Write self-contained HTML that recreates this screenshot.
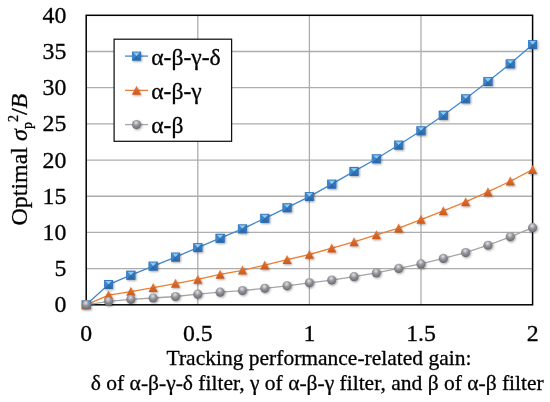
<!DOCTYPE html><html><head><meta charset="utf-8"><style>
html,body{margin:0;padding:0;background:#fff;}
body{width:550px;height:402px;overflow:hidden;}
svg{display:block;}
text{font-family:"Liberation Serif", "DejaVu Serif", serif;fill:#000;stroke:#000;stroke-width:0.3px;}
</style></head><body>
<svg width="550" height="402" viewBox="0 0 550 402">
<defs>
<linearGradient id="gbt" x1="0" y1="0" x2="0" y2="1"><stop offset="0" stop-color="#7cc3ec"/><stop offset="1" stop-color="#9fdcf6"/></linearGradient>
<linearGradient id="gb" x1="0" y1="0" x2="0" y2="1"><stop offset="0" stop-color="#5aa3e0"/><stop offset="1" stop-color="#2a6cb0"/></linearGradient>
<linearGradient id="go" x1="0" y1="0" x2="0" y2="1"><stop offset="0" stop-color="#ec7a36"/><stop offset="1" stop-color="#c9581c"/></linearGradient>
<radialGradient id="gg" cx="0.45" cy="0.3" r="0.7"><stop offset="0" stop-color="#e2e3e6"/><stop offset="0.45" stop-color="#94969b"/><stop offset="1" stop-color="#66686d"/></radialGradient>
<filter id="sh" x="-50%" y="-50%" width="200%" height="200%"><feGaussianBlur in="SourceAlpha" stdDeviation="0.9"/><feOffset dx="0.8" dy="1.2" result="b"/><feComponentTransfer><feFuncA type="linear" slope="0.35"/></feComponentTransfer><feMerge><feMergeNode/><feMergeNode in="SourceGraphic"/></feMerge></filter>
</defs>
<line x1="86.2" y1="268.61" x2="532.6" y2="268.61" stroke="#adadad" stroke-width="1.3"/>
<line x1="86.2" y1="232.43" x2="532.6" y2="232.43" stroke="#adadad" stroke-width="1.3"/>
<line x1="86.2" y1="196.24" x2="532.6" y2="196.24" stroke="#adadad" stroke-width="1.3"/>
<line x1="86.2" y1="160.05" x2="532.6" y2="160.05" stroke="#adadad" stroke-width="1.3"/>
<line x1="86.2" y1="123.86" x2="532.6" y2="123.86" stroke="#adadad" stroke-width="1.3"/>
<line x1="86.2" y1="87.68" x2="532.6" y2="87.68" stroke="#adadad" stroke-width="1.3"/>
<line x1="86.2" y1="51.49" x2="532.6" y2="51.49" stroke="#adadad" stroke-width="1.3"/>
<line x1="197.80" y1="15.3" x2="197.80" y2="304.8" stroke="#adadad" stroke-width="1.3"/>
<line x1="309.40" y1="15.3" x2="309.40" y2="304.8" stroke="#adadad" stroke-width="1.3"/>
<line x1="421.00" y1="15.3" x2="421.00" y2="304.8" stroke="#adadad" stroke-width="1.3"/>
<rect x="86.2" y="15.3" width="446.40" height="289.50" fill="none" stroke="#000" stroke-width="1.5"/>
<polyline points="86.20,304.80 108.52,301.33 130.84,299.37 153.16,298.00 175.48,296.48 197.80,294.16 220.12,292.21 242.44,290.61 264.76,288.37 287.08,285.84 309.40,282.87 331.72,280.12 354.04,276.65 376.36,272.95 398.68,268.47 421.00,263.91 443.32,258.41 465.64,252.62 487.96,245.24 510.28,236.84 532.60,227.72" fill="none" stroke="#a5a5a5" stroke-width="1.3"/>
<polyline points="86.20,304.80 108.52,295.03 130.84,291.56 153.16,287.65 175.48,283.52 197.80,279.47 220.12,274.47 242.44,270.28 264.76,265.14 287.08,259.71 309.40,254.50 331.72,248.13 354.04,241.91 376.36,234.89 398.68,228.08 421.00,219.54 443.32,210.93 465.64,201.88 487.96,191.90 510.28,181.26 532.60,169.60" fill="none" stroke="#ed7d31" stroke-width="1.3"/>
<polyline points="86.20,304.80 108.52,284.54 130.84,275.13 153.16,266.08 175.48,257.03 197.80,247.62 220.12,238.22 242.44,228.81 264.76,218.31 287.08,207.67 309.40,196.60 331.72,184.08 354.04,171.41 376.36,158.75 398.68,145.07 421.00,130.74 443.32,115.18 465.64,98.75 487.96,81.60 510.28,63.79 532.60,44.61" fill="none" stroke="#3f88d0" stroke-width="1.3"/>
<g filter="url(#sh)">
<g transform="translate(86.20,304.80)"><g><rect x="-4.5" y="-4.5" width="9" height="9" fill="#3577bd"/><path d="M-4.5,-4.5 L-4.5,4.5 L0,0 Z" fill="#3d84cb"/><path d="M4.5,-4.5 L4.5,4.5 L0,0 Z" fill="#3274b9"/><path d="M-4.5,4.5 L4.5,4.5 L0,0 Z" fill="#2d69aa"/><path d="M-3.4,-3.5 L3.4,-3.5 L0,-0.2 Z" fill="url(#gbt)"/></g></g>
<g transform="translate(108.52,284.54)"><g><rect x="-4.5" y="-4.5" width="9" height="9" fill="#3577bd"/><path d="M-4.5,-4.5 L-4.5,4.5 L0,0 Z" fill="#3d84cb"/><path d="M4.5,-4.5 L4.5,4.5 L0,0 Z" fill="#3274b9"/><path d="M-4.5,4.5 L4.5,4.5 L0,0 Z" fill="#2d69aa"/><path d="M-3.4,-3.5 L3.4,-3.5 L0,-0.2 Z" fill="url(#gbt)"/></g></g>
<g transform="translate(130.84,275.13)"><g><rect x="-4.5" y="-4.5" width="9" height="9" fill="#3577bd"/><path d="M-4.5,-4.5 L-4.5,4.5 L0,0 Z" fill="#3d84cb"/><path d="M4.5,-4.5 L4.5,4.5 L0,0 Z" fill="#3274b9"/><path d="M-4.5,4.5 L4.5,4.5 L0,0 Z" fill="#2d69aa"/><path d="M-3.4,-3.5 L3.4,-3.5 L0,-0.2 Z" fill="url(#gbt)"/></g></g>
<g transform="translate(153.16,266.08)"><g><rect x="-4.5" y="-4.5" width="9" height="9" fill="#3577bd"/><path d="M-4.5,-4.5 L-4.5,4.5 L0,0 Z" fill="#3d84cb"/><path d="M4.5,-4.5 L4.5,4.5 L0,0 Z" fill="#3274b9"/><path d="M-4.5,4.5 L4.5,4.5 L0,0 Z" fill="#2d69aa"/><path d="M-3.4,-3.5 L3.4,-3.5 L0,-0.2 Z" fill="url(#gbt)"/></g></g>
<g transform="translate(175.48,257.03)"><g><rect x="-4.5" y="-4.5" width="9" height="9" fill="#3577bd"/><path d="M-4.5,-4.5 L-4.5,4.5 L0,0 Z" fill="#3d84cb"/><path d="M4.5,-4.5 L4.5,4.5 L0,0 Z" fill="#3274b9"/><path d="M-4.5,4.5 L4.5,4.5 L0,0 Z" fill="#2d69aa"/><path d="M-3.4,-3.5 L3.4,-3.5 L0,-0.2 Z" fill="url(#gbt)"/></g></g>
<g transform="translate(197.80,247.62)"><g><rect x="-4.5" y="-4.5" width="9" height="9" fill="#3577bd"/><path d="M-4.5,-4.5 L-4.5,4.5 L0,0 Z" fill="#3d84cb"/><path d="M4.5,-4.5 L4.5,4.5 L0,0 Z" fill="#3274b9"/><path d="M-4.5,4.5 L4.5,4.5 L0,0 Z" fill="#2d69aa"/><path d="M-3.4,-3.5 L3.4,-3.5 L0,-0.2 Z" fill="url(#gbt)"/></g></g>
<g transform="translate(220.12,238.22)"><g><rect x="-4.5" y="-4.5" width="9" height="9" fill="#3577bd"/><path d="M-4.5,-4.5 L-4.5,4.5 L0,0 Z" fill="#3d84cb"/><path d="M4.5,-4.5 L4.5,4.5 L0,0 Z" fill="#3274b9"/><path d="M-4.5,4.5 L4.5,4.5 L0,0 Z" fill="#2d69aa"/><path d="M-3.4,-3.5 L3.4,-3.5 L0,-0.2 Z" fill="url(#gbt)"/></g></g>
<g transform="translate(242.44,228.81)"><g><rect x="-4.5" y="-4.5" width="9" height="9" fill="#3577bd"/><path d="M-4.5,-4.5 L-4.5,4.5 L0,0 Z" fill="#3d84cb"/><path d="M4.5,-4.5 L4.5,4.5 L0,0 Z" fill="#3274b9"/><path d="M-4.5,4.5 L4.5,4.5 L0,0 Z" fill="#2d69aa"/><path d="M-3.4,-3.5 L3.4,-3.5 L0,-0.2 Z" fill="url(#gbt)"/></g></g>
<g transform="translate(264.76,218.31)"><g><rect x="-4.5" y="-4.5" width="9" height="9" fill="#3577bd"/><path d="M-4.5,-4.5 L-4.5,4.5 L0,0 Z" fill="#3d84cb"/><path d="M4.5,-4.5 L4.5,4.5 L0,0 Z" fill="#3274b9"/><path d="M-4.5,4.5 L4.5,4.5 L0,0 Z" fill="#2d69aa"/><path d="M-3.4,-3.5 L3.4,-3.5 L0,-0.2 Z" fill="url(#gbt)"/></g></g>
<g transform="translate(287.08,207.67)"><g><rect x="-4.5" y="-4.5" width="9" height="9" fill="#3577bd"/><path d="M-4.5,-4.5 L-4.5,4.5 L0,0 Z" fill="#3d84cb"/><path d="M4.5,-4.5 L4.5,4.5 L0,0 Z" fill="#3274b9"/><path d="M-4.5,4.5 L4.5,4.5 L0,0 Z" fill="#2d69aa"/><path d="M-3.4,-3.5 L3.4,-3.5 L0,-0.2 Z" fill="url(#gbt)"/></g></g>
<g transform="translate(309.40,196.60)"><g><rect x="-4.5" y="-4.5" width="9" height="9" fill="#3577bd"/><path d="M-4.5,-4.5 L-4.5,4.5 L0,0 Z" fill="#3d84cb"/><path d="M4.5,-4.5 L4.5,4.5 L0,0 Z" fill="#3274b9"/><path d="M-4.5,4.5 L4.5,4.5 L0,0 Z" fill="#2d69aa"/><path d="M-3.4,-3.5 L3.4,-3.5 L0,-0.2 Z" fill="url(#gbt)"/></g></g>
<g transform="translate(331.72,184.08)"><g><rect x="-4.5" y="-4.5" width="9" height="9" fill="#3577bd"/><path d="M-4.5,-4.5 L-4.5,4.5 L0,0 Z" fill="#3d84cb"/><path d="M4.5,-4.5 L4.5,4.5 L0,0 Z" fill="#3274b9"/><path d="M-4.5,4.5 L4.5,4.5 L0,0 Z" fill="#2d69aa"/><path d="M-3.4,-3.5 L3.4,-3.5 L0,-0.2 Z" fill="url(#gbt)"/></g></g>
<g transform="translate(354.04,171.41)"><g><rect x="-4.5" y="-4.5" width="9" height="9" fill="#3577bd"/><path d="M-4.5,-4.5 L-4.5,4.5 L0,0 Z" fill="#3d84cb"/><path d="M4.5,-4.5 L4.5,4.5 L0,0 Z" fill="#3274b9"/><path d="M-4.5,4.5 L4.5,4.5 L0,0 Z" fill="#2d69aa"/><path d="M-3.4,-3.5 L3.4,-3.5 L0,-0.2 Z" fill="url(#gbt)"/></g></g>
<g transform="translate(376.36,158.75)"><g><rect x="-4.5" y="-4.5" width="9" height="9" fill="#3577bd"/><path d="M-4.5,-4.5 L-4.5,4.5 L0,0 Z" fill="#3d84cb"/><path d="M4.5,-4.5 L4.5,4.5 L0,0 Z" fill="#3274b9"/><path d="M-4.5,4.5 L4.5,4.5 L0,0 Z" fill="#2d69aa"/><path d="M-3.4,-3.5 L3.4,-3.5 L0,-0.2 Z" fill="url(#gbt)"/></g></g>
<g transform="translate(398.68,145.07)"><g><rect x="-4.5" y="-4.5" width="9" height="9" fill="#3577bd"/><path d="M-4.5,-4.5 L-4.5,4.5 L0,0 Z" fill="#3d84cb"/><path d="M4.5,-4.5 L4.5,4.5 L0,0 Z" fill="#3274b9"/><path d="M-4.5,4.5 L4.5,4.5 L0,0 Z" fill="#2d69aa"/><path d="M-3.4,-3.5 L3.4,-3.5 L0,-0.2 Z" fill="url(#gbt)"/></g></g>
<g transform="translate(421.00,130.74)"><g><rect x="-4.5" y="-4.5" width="9" height="9" fill="#3577bd"/><path d="M-4.5,-4.5 L-4.5,4.5 L0,0 Z" fill="#3d84cb"/><path d="M4.5,-4.5 L4.5,4.5 L0,0 Z" fill="#3274b9"/><path d="M-4.5,4.5 L4.5,4.5 L0,0 Z" fill="#2d69aa"/><path d="M-3.4,-3.5 L3.4,-3.5 L0,-0.2 Z" fill="url(#gbt)"/></g></g>
<g transform="translate(443.32,115.18)"><g><rect x="-4.5" y="-4.5" width="9" height="9" fill="#3577bd"/><path d="M-4.5,-4.5 L-4.5,4.5 L0,0 Z" fill="#3d84cb"/><path d="M4.5,-4.5 L4.5,4.5 L0,0 Z" fill="#3274b9"/><path d="M-4.5,4.5 L4.5,4.5 L0,0 Z" fill="#2d69aa"/><path d="M-3.4,-3.5 L3.4,-3.5 L0,-0.2 Z" fill="url(#gbt)"/></g></g>
<g transform="translate(465.64,98.75)"><g><rect x="-4.5" y="-4.5" width="9" height="9" fill="#3577bd"/><path d="M-4.5,-4.5 L-4.5,4.5 L0,0 Z" fill="#3d84cb"/><path d="M4.5,-4.5 L4.5,4.5 L0,0 Z" fill="#3274b9"/><path d="M-4.5,4.5 L4.5,4.5 L0,0 Z" fill="#2d69aa"/><path d="M-3.4,-3.5 L3.4,-3.5 L0,-0.2 Z" fill="url(#gbt)"/></g></g>
<g transform="translate(487.96,81.60)"><g><rect x="-4.5" y="-4.5" width="9" height="9" fill="#3577bd"/><path d="M-4.5,-4.5 L-4.5,4.5 L0,0 Z" fill="#3d84cb"/><path d="M4.5,-4.5 L4.5,4.5 L0,0 Z" fill="#3274b9"/><path d="M-4.5,4.5 L4.5,4.5 L0,0 Z" fill="#2d69aa"/><path d="M-3.4,-3.5 L3.4,-3.5 L0,-0.2 Z" fill="url(#gbt)"/></g></g>
<g transform="translate(510.28,63.79)"><g><rect x="-4.5" y="-4.5" width="9" height="9" fill="#3577bd"/><path d="M-4.5,-4.5 L-4.5,4.5 L0,0 Z" fill="#3d84cb"/><path d="M4.5,-4.5 L4.5,4.5 L0,0 Z" fill="#3274b9"/><path d="M-4.5,4.5 L4.5,4.5 L0,0 Z" fill="#2d69aa"/><path d="M-3.4,-3.5 L3.4,-3.5 L0,-0.2 Z" fill="url(#gbt)"/></g></g>
<g transform="translate(532.60,44.61)"><g><rect x="-4.5" y="-4.5" width="9" height="9" fill="#3577bd"/><path d="M-4.5,-4.5 L-4.5,4.5 L0,0 Z" fill="#3d84cb"/><path d="M4.5,-4.5 L4.5,4.5 L0,0 Z" fill="#3274b9"/><path d="M-4.5,4.5 L4.5,4.5 L0,0 Z" fill="#2d69aa"/><path d="M-3.4,-3.5 L3.4,-3.5 L0,-0.2 Z" fill="url(#gbt)"/></g></g>
<g transform="translate(86.20,304.80)"><g><path d="M0,-4.7 L4.6,4.3 L-4.6,4.3 Z" fill="url(#go)"/></g></g>
<g transform="translate(108.52,295.03)"><g><path d="M0,-4.7 L4.6,4.3 L-4.6,4.3 Z" fill="url(#go)"/></g></g>
<g transform="translate(130.84,291.56)"><g><path d="M0,-4.7 L4.6,4.3 L-4.6,4.3 Z" fill="url(#go)"/></g></g>
<g transform="translate(153.16,287.65)"><g><path d="M0,-4.7 L4.6,4.3 L-4.6,4.3 Z" fill="url(#go)"/></g></g>
<g transform="translate(175.48,283.52)"><g><path d="M0,-4.7 L4.6,4.3 L-4.6,4.3 Z" fill="url(#go)"/></g></g>
<g transform="translate(197.80,279.47)"><g><path d="M0,-4.7 L4.6,4.3 L-4.6,4.3 Z" fill="url(#go)"/></g></g>
<g transform="translate(220.12,274.47)"><g><path d="M0,-4.7 L4.6,4.3 L-4.6,4.3 Z" fill="url(#go)"/></g></g>
<g transform="translate(242.44,270.28)"><g><path d="M0,-4.7 L4.6,4.3 L-4.6,4.3 Z" fill="url(#go)"/></g></g>
<g transform="translate(264.76,265.14)"><g><path d="M0,-4.7 L4.6,4.3 L-4.6,4.3 Z" fill="url(#go)"/></g></g>
<g transform="translate(287.08,259.71)"><g><path d="M0,-4.7 L4.6,4.3 L-4.6,4.3 Z" fill="url(#go)"/></g></g>
<g transform="translate(309.40,254.50)"><g><path d="M0,-4.7 L4.6,4.3 L-4.6,4.3 Z" fill="url(#go)"/></g></g>
<g transform="translate(331.72,248.13)"><g><path d="M0,-4.7 L4.6,4.3 L-4.6,4.3 Z" fill="url(#go)"/></g></g>
<g transform="translate(354.04,241.91)"><g><path d="M0,-4.7 L4.6,4.3 L-4.6,4.3 Z" fill="url(#go)"/></g></g>
<g transform="translate(376.36,234.89)"><g><path d="M0,-4.7 L4.6,4.3 L-4.6,4.3 Z" fill="url(#go)"/></g></g>
<g transform="translate(398.68,228.08)"><g><path d="M0,-4.7 L4.6,4.3 L-4.6,4.3 Z" fill="url(#go)"/></g></g>
<g transform="translate(421.00,219.54)"><g><path d="M0,-4.7 L4.6,4.3 L-4.6,4.3 Z" fill="url(#go)"/></g></g>
<g transform="translate(443.32,210.93)"><g><path d="M0,-4.7 L4.6,4.3 L-4.6,4.3 Z" fill="url(#go)"/></g></g>
<g transform="translate(465.64,201.88)"><g><path d="M0,-4.7 L4.6,4.3 L-4.6,4.3 Z" fill="url(#go)"/></g></g>
<g transform="translate(487.96,191.90)"><g><path d="M0,-4.7 L4.6,4.3 L-4.6,4.3 Z" fill="url(#go)"/></g></g>
<g transform="translate(510.28,181.26)"><g><path d="M0,-4.7 L4.6,4.3 L-4.6,4.3 Z" fill="url(#go)"/></g></g>
<g transform="translate(532.60,169.60)"><g><path d="M0,-4.7 L4.6,4.3 L-4.6,4.3 Z" fill="url(#go)"/></g></g>
<g transform="translate(86.20,304.80)"><g><circle r="4.6" fill="url(#gg)"/></g></g>
<g transform="translate(108.52,301.33)"><g><circle r="4.6" fill="url(#gg)"/></g></g>
<g transform="translate(130.84,299.37)"><g><circle r="4.6" fill="url(#gg)"/></g></g>
<g transform="translate(153.16,298.00)"><g><circle r="4.6" fill="url(#gg)"/></g></g>
<g transform="translate(175.48,296.48)"><g><circle r="4.6" fill="url(#gg)"/></g></g>
<g transform="translate(197.80,294.16)"><g><circle r="4.6" fill="url(#gg)"/></g></g>
<g transform="translate(220.12,292.21)"><g><circle r="4.6" fill="url(#gg)"/></g></g>
<g transform="translate(242.44,290.61)"><g><circle r="4.6" fill="url(#gg)"/></g></g>
<g transform="translate(264.76,288.37)"><g><circle r="4.6" fill="url(#gg)"/></g></g>
<g transform="translate(287.08,285.84)"><g><circle r="4.6" fill="url(#gg)"/></g></g>
<g transform="translate(309.40,282.87)"><g><circle r="4.6" fill="url(#gg)"/></g></g>
<g transform="translate(331.72,280.12)"><g><circle r="4.6" fill="url(#gg)"/></g></g>
<g transform="translate(354.04,276.65)"><g><circle r="4.6" fill="url(#gg)"/></g></g>
<g transform="translate(376.36,272.95)"><g><circle r="4.6" fill="url(#gg)"/></g></g>
<g transform="translate(398.68,268.47)"><g><circle r="4.6" fill="url(#gg)"/></g></g>
<g transform="translate(421.00,263.91)"><g><circle r="4.6" fill="url(#gg)"/></g></g>
<g transform="translate(443.32,258.41)"><g><circle r="4.6" fill="url(#gg)"/></g></g>
<g transform="translate(465.64,252.62)"><g><circle r="4.6" fill="url(#gg)"/></g></g>
<g transform="translate(487.96,245.24)"><g><circle r="4.6" fill="url(#gg)"/></g></g>
<g transform="translate(510.28,236.84)"><g><circle r="4.6" fill="url(#gg)"/></g></g>
<g transform="translate(532.60,227.72)"><g><circle r="4.6" fill="url(#gg)"/></g></g>
</g>
<text x="66.3" y="312.30" font-size="23.8" text-anchor="end">0</text>
<text x="66.3" y="276.11" font-size="23.8" text-anchor="end">5</text>
<text x="66.3" y="239.93" font-size="23.8" text-anchor="end">10</text>
<text x="66.3" y="203.74" font-size="23.8" text-anchor="end">15</text>
<text x="66.3" y="167.55" font-size="23.8" text-anchor="end">20</text>
<text x="66.3" y="131.36" font-size="23.8" text-anchor="end">25</text>
<text x="66.3" y="95.18" font-size="23.8" text-anchor="end">30</text>
<text x="66.3" y="58.99" font-size="23.8" text-anchor="end">35</text>
<text x="66.3" y="22.80" font-size="23.8" text-anchor="end">40</text>
<text x="86.20" y="340.5" font-size="23.8" text-anchor="middle">0</text>
<text x="197.80" y="340.5" font-size="23.8" text-anchor="middle">0.5</text>
<text x="309.40" y="340.5" font-size="23.8" text-anchor="middle">1</text>
<text x="421.00" y="340.5" font-size="23.8" text-anchor="middle">1.5</text>
<text x="532.60" y="340.5" font-size="23.8" text-anchor="middle">2</text>
<text x="319" y="364.5" font-size="21.5" text-anchor="middle">Tracking performance-related gain:</text>
<text x="317.3" y="389.5" font-size="21.5" text-anchor="middle">δ of α-β-γ-δ filter, γ of α-β-γ filter, and β of α-β filter</text>
<text transform="translate(26.5,159.7) rotate(-90)" font-size="24" text-anchor="middle">Optimal <tspan font-style="italic">σ</tspan><tspan font-size="14" dy="5">p</tspan><tspan font-size="14" dy="-14">2</tspan><tspan dy="9">/</tspan><tspan font-style="italic">B</tspan></text>
<rect x="114.1" y="39.2" width="117.5" height="102.1" fill="#fff" stroke="#111" stroke-width="1.25"/>
<line x1="125" y1="56.1" x2="148" y2="56.1" stroke="#3f88d0" stroke-width="1.3"/>
<g transform="translate(136.5,56.1)" filter="url(#sh)"><g><rect x="-4.5" y="-4.5" width="9" height="9" fill="#3577bd"/><path d="M-4.5,-4.5 L-4.5,4.5 L0,0 Z" fill="#3d84cb"/><path d="M4.5,-4.5 L4.5,4.5 L0,0 Z" fill="#3274b9"/><path d="M-4.5,4.5 L4.5,4.5 L0,0 Z" fill="#2d69aa"/><path d="M-3.4,-3.5 L3.4,-3.5 L0,-0.2 Z" fill="url(#gbt)"/></g></g>
<text x="151.2" y="64.50" font-size="23.6">α-β-γ-δ</text>
<line x1="125" y1="90.4" x2="148" y2="90.4" stroke="#ed7d31" stroke-width="1.3"/>
<g transform="translate(136.5,90.4)" filter="url(#sh)"><g><path d="M0,-4.7 L4.6,4.3 L-4.6,4.3 Z" fill="url(#go)"/></g></g>
<text x="151.2" y="98.80" font-size="23.6">α-β-γ</text>
<line x1="125" y1="124.6" x2="148" y2="124.6" stroke="#a5a5a5" stroke-width="1.3"/>
<g transform="translate(136.5,124.6)" filter="url(#sh)"><g><circle r="4.6" fill="url(#gg)"/></g></g>
<text x="151.2" y="133.00" font-size="23.6">α-β</text>
</svg></body></html>
